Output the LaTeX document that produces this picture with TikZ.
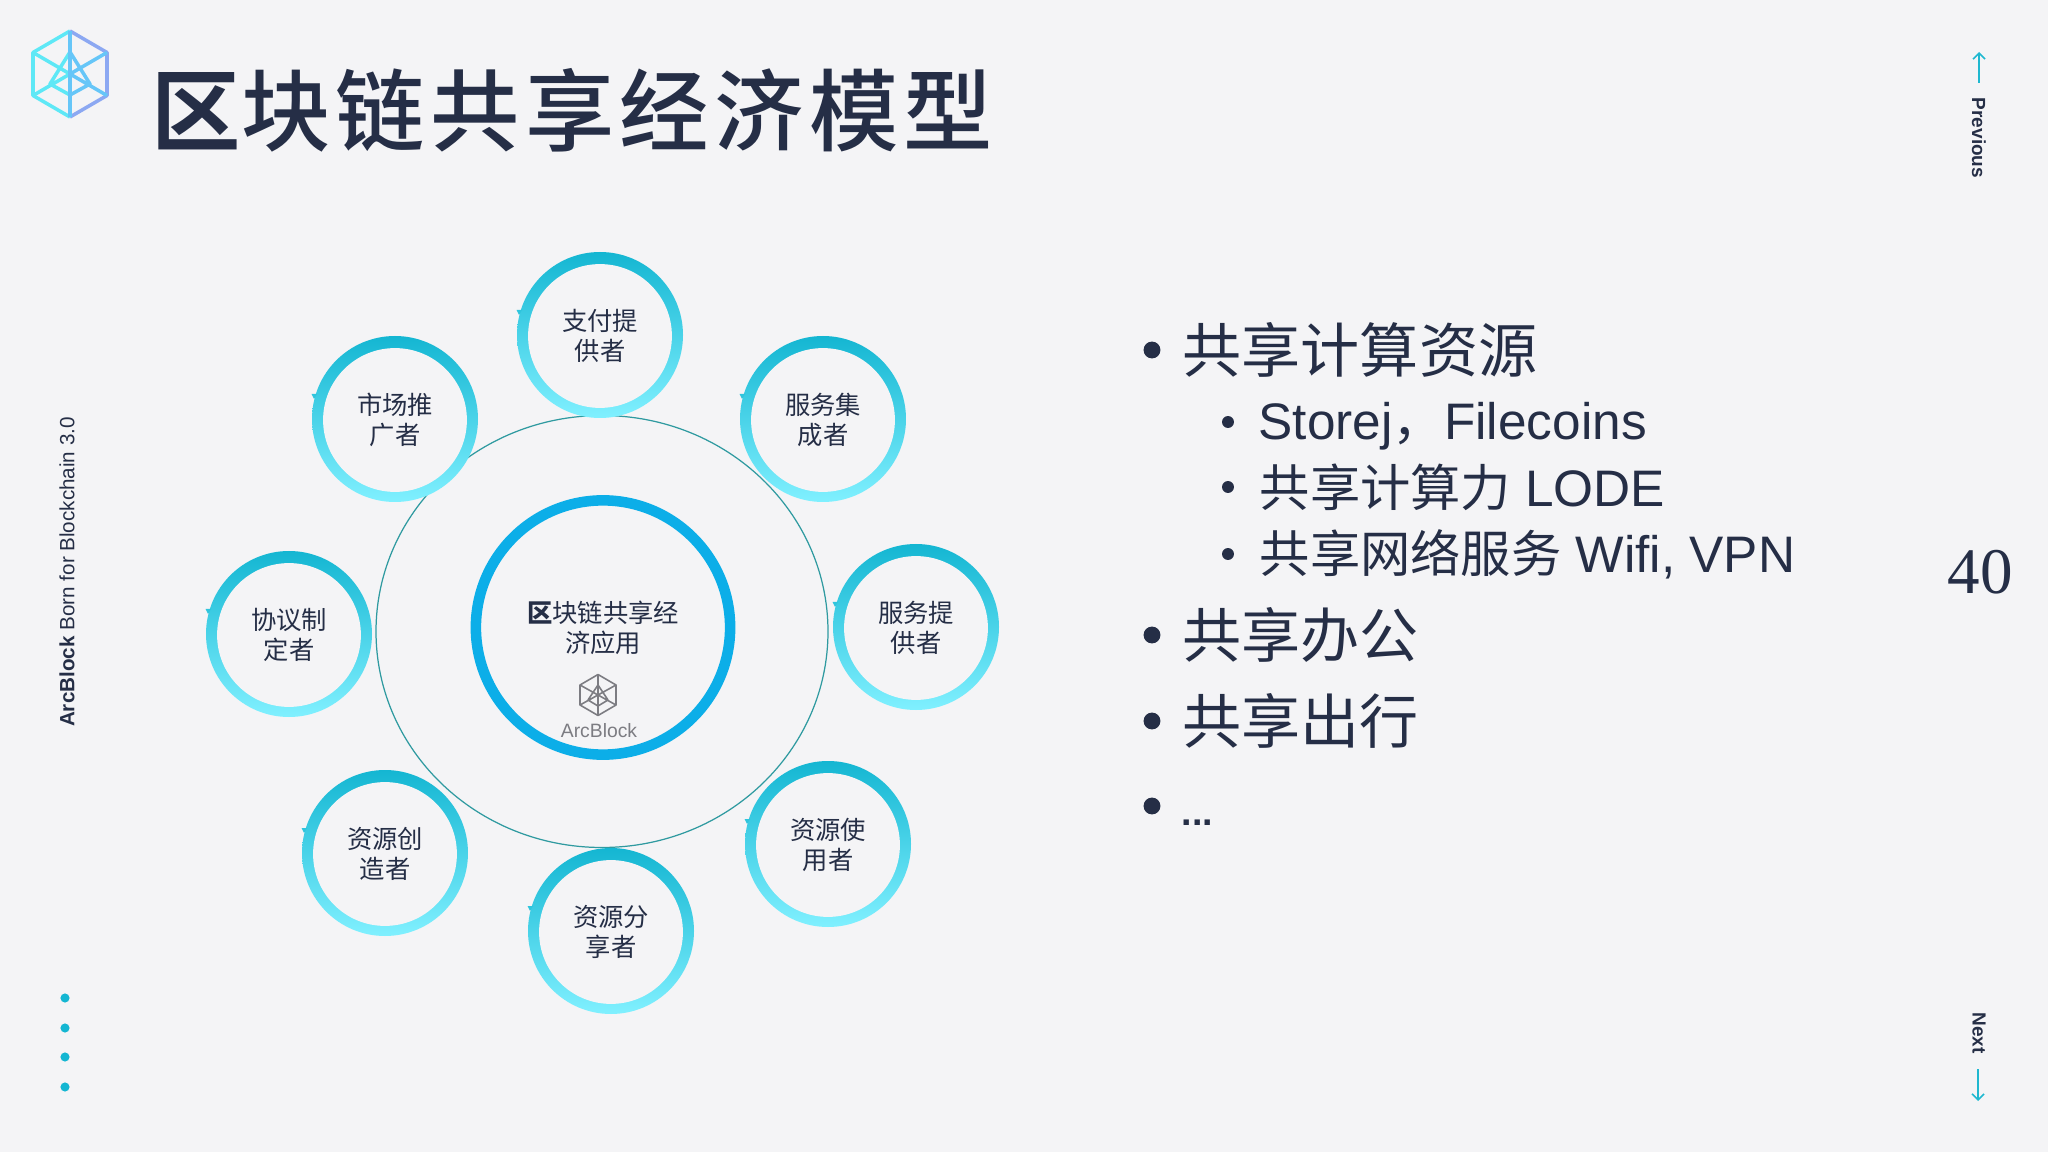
\documentclass[tikz,border=0pt]{standalone}
\usepackage{fontspec}
\setmainfont{Liberation Sans}
\newfontfamily\cjk{Noto Sans CJK SC}
\newfontfamily\pagefont{Liberation Serif}
\newfontfamily\cjktitle[LetterSpace=6]{Noto Sans CJK SC Medium}
\newfontfamily\cjktitlebold[LetterSpace=6,UprightFont=*]{Noto Sans CJK SC Bold}
\usetikzlibrary{arrows.meta}
\definecolor{pagebg}{HTML}{F4F4F6}
\definecolor{inkblue}{HTML}{252E46}
\definecolor{ringtop}{HTML}{14B6D2}
\definecolor{ringmid}{HTML}{38D0EA}
\definecolor{ringbot}{HTML}{80F0FF}
\definecolor{hubblue}{HTML}{0CAEE8}
\definecolor{thinteal}{HTML}{2F9AA0}
\definecolor{navcyan}{HTML}{1FB8D0}
\definecolor{logogrey}{HTML}{7C7C82}
\definecolor{logoleft}{HTML}{5EE8F6}
\definecolor{logomid}{HTML}{66C6F8}
\definecolor{logoright}{HTML}{8CA8F2}
\begin{document}
\begin{tikzpicture}[x=0.01cm, y=-0.01cm,
    ringshade/.style={top color=ringtop, middle color=ringmid, bottom color=ringbot},
    ringtext/.style={circle, fill=pagebg, inner sep=0pt, minimum size=40.9pt, text=inkblue, align=center, font=\cjk\fontsize{7.2pt}{8.6pt}\selectfont},
    hub/.style={circle, draw=hubblue, line width=3pt, fill=pagebg, inner sep=0pt, minimum size=72.3pt},
    hubtext/.style={text=inkblue, align=center, inner sep=0pt, font=\cjk\fontsize{7.2pt}{8.6pt}\selectfont},
    mainitem/.style={anchor=west, inner sep=0pt, text=inkblue, font=\cjk\fontsize{16.8pt}{18pt}\selectfont},
    subitem/.style={anchor=west, inner sep=0pt, text=inkblue, font=\fontsize{14.6pt}{16pt}\selectfont},
    bigdot/.style={circle, fill=inkblue, inner sep=0pt, minimum size=4.8pt},
    smalldot/.style={circle, fill=inkblue, inner sep=0pt, minimum size=3.4pt},
    pagedot/.style={circle, fill=ringtop, inner sep=0pt, minimum size=2.6pt},
    navtext/.style={rotate=-90, inner sep=0pt, text=inkblue, font=\bfseries\fontsize{5.4pt}{6pt}\selectfont},
    navarrow/.style={navcyan, line width=0.45pt, -{Straight Barb[length=1.7pt,width=3.4pt]}},
    logoline/.style={line width=1pt, line join=round}]
    \useasboundingbox [fill=pagebg] (0, 0) rectangle (2048, 1152);
    % corner logo
    \draw [logoline, color=logoleft] (70, 31) -- (33, 52.5) -- (33, 95.5) -- (70, 117);
    \draw [logoline, color=logoleft] (33, 52.5) -- (70, 74) (33, 95.5) -- (70, 74) (70, 52) -- (50, 84) -- (70, 95);
    \draw [logoline, color=logoright] (70, 31) -- (107, 52.5) -- (107, 95.5) -- (70, 117);
    \draw [logoline, color=logomid] (107, 52.5) -- (70, 74) (107, 95.5) -- (70, 74) (70, 52) -- (90, 84) -- (70, 95);
    \draw [logoline, color=logomid] (70, 31) -- (70, 117);
    \node [inner sep=0pt, anchor=west, text=inkblue, font=\fontsize{25.4pt}{28pt}\selectfont] (title) at (151, 110)
        {{\cjktitlebold 区}{\cjktitle 块链共享经济模型}};
    % circles
    \draw [thinteal, line width=0.35pt] (602, 631.5) ellipse [x radius=226, y radius=216];
    \foreach \cx/\cy/\ringname/\ringlabel in {600/335/pay/{支付提\\供者}, 395/419/market/{市场推\\广者},
        823/419/integrate/{服务集\\成者}, 289/634/protocol/{协议制\\定者}, 916/627/service/{服务提\\供者},
        385/853/create/{资源创\\造者}, 828/844/consume/{资源使\\用者}, 611/931/share/{资源分\\享者}} {
        \shade [ringshade] (\cx, \cy) circle (83);
        \fill [ringtop!75!ringbot] (\cx-83.5, \cy-25) -- (\cx-81, \cy-20) -- (\cx-78, \cy-25) -- cycle;
        \node [ringtext] (\ringname) at (\cx, \cy+1) {\ringlabel};
    }
    \node [hub] (hub) at (603, 627.5) {};
    \node [hubtext] (hublabel) at (603, 628) {{\bfseries 区}块链共享经\\济应用};
    % small logo in the hub
    \draw [logogrey, line width=0.45pt, line join=round] (598, 674.5) -- (616, 685) -- (616, 705) -- (598, 715.5) -- (580, 705) -- (580, 685) -- cycle
        (598, 674.5) -- (598, 715.5) (580, 685) -- (616, 705) (580, 705) -- (616, 685)
        (598, 685) -- (588, 700) -- (598, 706) -- (608, 700) -- cycle;
    \node [inner sep=0pt, text=logogrey, font=\fontsize{5.5pt}{7pt}\selectfont] (arcblock) at (599, 731) {ArcBlock};
    % list on the right
    \foreach \by [count=\n] in {350, 635, 721, 806} {
        \node [bigdot] (bullet\n) at (1152, \by) {};
    }
    \foreach \by [count=\n] in {422, 487, 554} {
        \node [smalldot] (subbullet\n) at (1228, \by) {};
    }
    \node [mainitem] (compute) at (1182, 350) {共享计算资源};
    \node [subitem] (storej) at (1258, 426) {Storej{\cjk ，}Filecoins};
    \node [subitem] (lode) at (1259, 487) {{\cjk\fontsize{14.3pt}{16pt}\selectfont 共享计算力} LODE};
    \node [subitem] (wifi) at (1259, 554) {{\cjk\fontsize{14.3pt}{16pt}\selectfont 共享网络服务} Wifi, VPN};
    \node [mainitem] (office) at (1182, 635) {共享办公};
    \node [mainitem] (travel) at (1182, 721) {共享出行};
    \node [subitem, font=\bfseries\fontsize{10.7pt}{16pt}\selectfont] (more) at (1181, 823) {...};
    % page furniture
    \node [inner sep=0pt, text=inkblue, font=\pagefont\fontsize{18.5pt}{22pt}\selectfont] (pagenum) at (1980, 572) {40};
    \node [rotate=90, inner sep=0pt, text=inkblue, font=\fontsize{5.87pt}{7pt}\selectfont] (side) at (67, 572) {\textbf{ArcBlock} Born for Blockchain 3.0};
    \foreach \dy [count=\n] in {998, 1028, 1057, 1087} {
        \node [pagedot] (pagedot\n) at (65, \dy) {};
    }
    \node [navtext] (previous) at (1979, 138) {Previous};
    \node [navtext] (next) at (1979, 1033) {Next};
    \coordinate (prevtail) at (1979, 83);
    \coordinate (prevhead) at (1979, 52);
    \coordinate (nexttail) at (1978, 1069);
    \coordinate (nexthead) at (1978, 1101);
    \draw [navarrow] (prevtail) -- (prevhead);
    \draw [navarrow] (nexttail) -- (nexthead);
\end{tikzpicture}
\end{document}
